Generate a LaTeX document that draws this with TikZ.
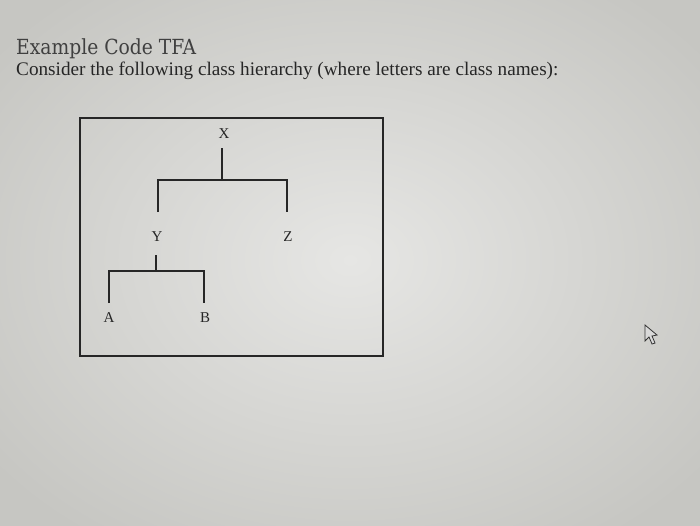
\documentclass[tikz,border=0pt]{standalone}
\usepackage{fontspec}
\setmainfont{Liberation Serif}
\newfontfamily\titlefont{DejaVu Serif Condensed}
\begin{document}
\begin{tikzpicture}[x=1pt,y=-1pt,
  lbl/.style={inner sep=0pt,font=\fontsize{15}{15}\selectfont,text=black!85},
  tree/.style={draw=black!85,line width=1.3pt},
  frame/.style={draw=black!85,line width=1.6pt}]
\useasboundingbox (0,0) rectangle (700,525);
\fill[color={rgb,255:red,198;green,198;blue,194}] (0,0) rectangle (700,525);
\shade[inner color={rgb,255:red,230;green,230;blue,228},outer color={rgb,255:red,198;green,198;blue,194}] (-100,-80) rectangle (800,600);
\node[anchor=base west,inner sep=0pt,text=black!75,font=\titlefont\fontsize{20.8}{21}\selectfont] (title) at (16,54) {Example Code TFA};
\node[anchor=base west,inner sep=0pt,text=black!85,font=\fontsize{19.2}{19}\selectfont] (sub) at (16,75) {Consider the following class hierarchy (where letters are class names):};
\node[frame,minimum width=303pt,minimum height=238pt,anchor=north west,inner sep=0pt] (box) at (79,117) {};
\node[lbl] (X) at (224,134) {X};
\node[lbl] (Y) at (157,237) {Y};
\node[lbl] (Z) at (288,237) {Z};
\node[lbl] (A) at (109,318) {A};
\node[lbl] (B) at (205,318) {B};
\coordinate (xs) at (222,148);
\coordinate (xb) at (222,180);
\coordinate (yt) at (158,212);
\coordinate (zt) at (287,212);
\coordinate (ys) at (156,255);
\coordinate (yb) at (156,271);
\coordinate (at) at (109,303);
\coordinate (bt) at (204,303);
\draw[tree] (xs) -- (xb);
\draw[tree] (yt) |- (xb) -| (zt);
\draw[tree] (ys) -- (yb);
\draw[tree] (at) |- (yb) -| (bt);
\draw[draw=black!80,fill=white!85!black,line width=0.8pt] (645,325) -- (645,341) -- (649,337) -- (652,344) -- (655,343) -- (652,336) -- (657,335) -- cycle;
\end{tikzpicture}
\end{document}
